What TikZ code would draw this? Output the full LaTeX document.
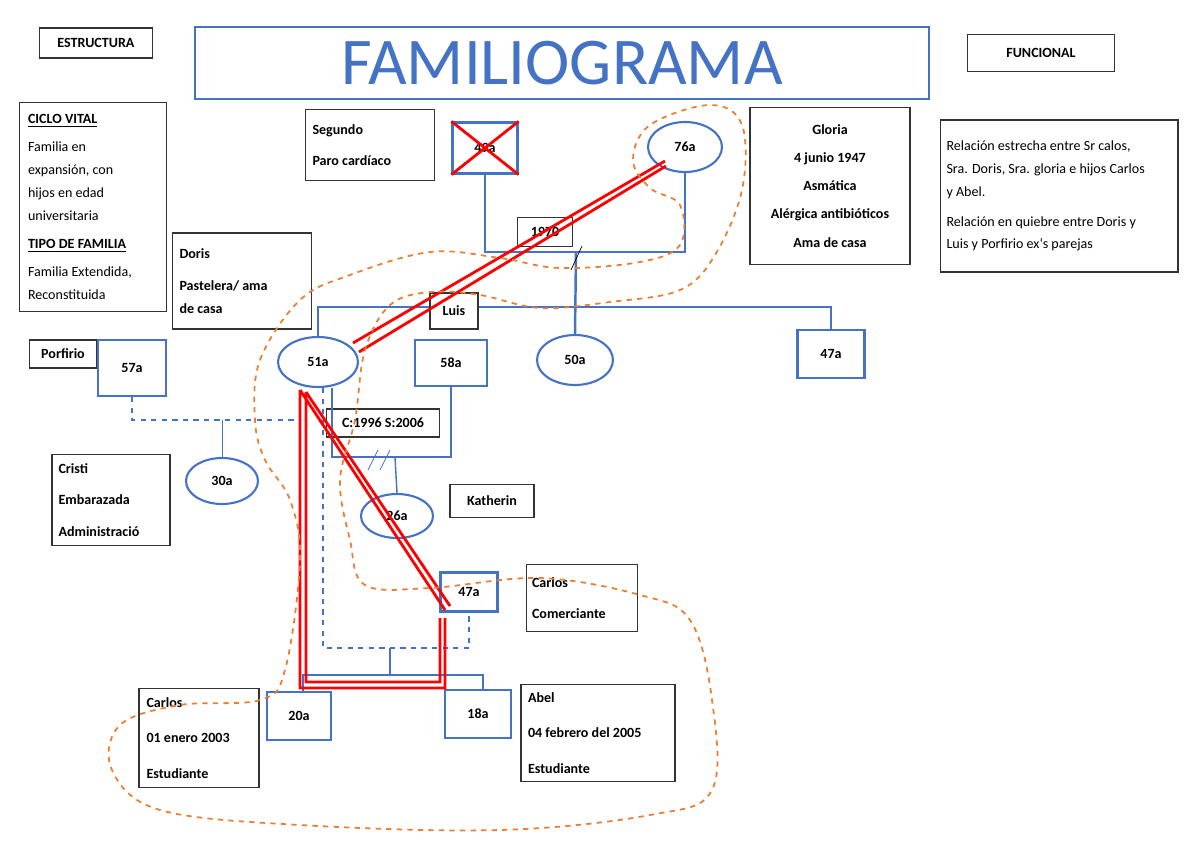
\documentclass[tikz,border=0pt]{standalone}
\usepackage{fontspec}
\setmainfont{Carlito}
\usetikzlibrary{shapes.geometric}
\definecolor{azul}{RGB}{68,114,196}
\definecolor{naranja}{RGB}{237,125,49}
\tikzset{
  box/.style={draw=black!80, line width=0.6pt, inner sep=2pt, font=\fontsize{8}{13}\selectfont\bfseries},
  nota/.style={box, align=flush left, font=\fontsize{8}{13}\selectfont},
  hombre/.style={draw=azul, line width=1.2pt, font=\fontsize{8}{10}\selectfont\bfseries},
  mujer/.style={ellipse, draw=azul, line width=1.2pt, font=\fontsize{8}{10}\selectfont\bfseries},
  lazo/.style={draw=azul, line width=1.4pt},
  lazod/.style={draw=azul, line width=0.9pt, dashed},
  roto/.style={draw=red, line width=1.6pt},
}
\begin{document}
\begin{tikzpicture}[x=0.02cm, y=-0.02cm]
\useasboundingbox (0,0) rectangle (1200,849);

% cuadros de texto
\node[box, minimum width=2.26cm, minimum height=0.6cm] (estr) at (96,43) {ESTRUCTURA};
\node[draw=azul, line width=1.2pt, minimum width=14.7cm, minimum height=1.44cm, text=azul, font=\fontsize{38}{40}\selectfont] (titulo) at (562,63) {FAMILIOGRAMA};
\node[box, minimum width=2.94cm, minimum height=0.74cm] (func) at (1041,53) {FUNCIONAL};
\node[nota, minimum width=2.94cm, minimum height=4.18cm, text width=2.6cm] (ciclo) at (93,207) {\textbf{\underline{CICLO VITAL}}\\[3pt]Familia en\\expansión, con\\hijos en edad\\universitaria\\[3pt]\textbf{\underline{TIPO DE FAMILIA}}\\[3pt]Familia Extendida,\\Reconstituida};
\node[box, align=flush left, minimum width=2.58cm, minimum height=1.42cm, text width=2.3cm] (segundo) at (370,145) {Segundo\\[5pt]Paro cardíaco};
\node[box, align=center, minimum width=3.2cm, minimum height=3.14cm, font=\fontsize{8}{16}\selectfont\bfseries] (gloria) at (830,186) {Gloria\\4 junio 1947\\Asmática\\Alérgica antibióticos\\Ama de casa};
\node[nota, minimum width=4.76cm, minimum height=3.04cm, text width=4.5cm] (funcional) at (1059,196) {Relación estrecha entre Sr calos,\\Sra. Doris, Sra. gloria e hijos Carlos\\y Abel.\\[4pt]Relación en quiebre entre Doris y\\Luis y Porfirio ex{\char"0060}s parejas};
\node[box, align=flush left, minimum width=2.78cm, minimum height=1.92cm, text width=2.5cm] (doris) at (242,281) {Doris\\[5pt]Pastelera/ ama\\de casa};
\node[box, minimum width=1.34cm, minimum height=0.56cm] (porfirio) at (63,354) {Porfirio};
\node[box, align=flush left, minimum width=2.36cm, minimum height=1.82cm, text width=2.1cm, font=\fontsize{8}{18}\selectfont\bfseries] (cristi) at (111,500) {Cristi\\Embarazada\\Administració};
\node[box, minimum width=1.68cm, minimum height=0.66cm] (katherin) at (492,501) {Katherin};
\node[box, align=flush left, minimum width=2.22cm, minimum height=1.34cm, text width=2cm, font=\fontsize{8}{18}\selectfont\bfseries] (carlosc) at (582,598) {Carlos\\Comerciante};
\node[box, align=flush left, minimum width=2.4cm, minimum height=1.98cm, text width=2.1cm, font=\fontsize{8}{20}\selectfont\bfseries] (carlose) at (199,738) {Carlos\\01 enero 2003\\Estudiante};
\node[box, align=flush left, minimum width=3.08cm, minimum height=1.94cm, text width=2.8cm, font=\fontsize{8}{20}\selectfont\bfseries] (abel) at (598,733) {Abel\\04 febrero del 2005\\Estudiante};

% personas
\node[hombre, minimum width=1.3cm, minimum height=1.02cm, anchor=center] (h49) at (485,148) {49a};
\node[mujer, minimum width=1.48cm, minimum height=1.0cm] (m76) at (685,147) {76a};
\node[box, minimum width=1.1cm, minimum height=0.58cm] (anio) at (545,232) {1970};
\node[mujer, minimum width=1.6cm, minimum height=1.0cm] (m51) at (318,362) {51a};
\node[hombre, minimum width=1.44cm, minimum height=0.92cm] (h58) at (451,363) {58a};
\node[mujer, minimum width=1.52cm, minimum height=1.0cm] (m50) at (575,360) {50a};
\node[hombre, minimum width=1.34cm, minimum height=0.96cm] (h47b) at (831,354) {47a};
\node[hombre, minimum width=1.36cm, minimum height=1.12cm] (h57) at (132,368) {57a};
\node[mujer, minimum width=1.44cm, minimum height=0.92cm] (m30) at (222,481) {30a};
\node[box, minimum width=2.26cm, minimum height=0.56cm, fill=white] (union) at (383,423) {C:1996 S:2006};
\node[mujer, minimum width=1.44cm, minimum height=0.88cm] (m26) at (397,516) {26a};
\node[hombre, minimum width=1.14cm, minimum height=0.78cm] (h47) at (469,592) {47a};
\node[hombre, minimum width=1.28cm, minimum height=0.96cm] (h20) at (299,716) {20a};
\node[hombre, minimum width=1.32cm, minimum height=0.96cm] (h18) at (478,714) {18a};

% uniones
\coordinate (p1) at (576,252);
\coordinate (p2) at (576,307);
\coordinate (p3) at (395,457);
\coordinate (p4) at (222,420);
\coordinate (p5) at (390,648);
\coordinate (p6) at (390,675);
\draw[lazo] (h49.south) |- (p1) -| (m76.south);
\draw[lazo] (p1) -- (m50.north);
\draw[lazo] (m51.north) |- (p2) -| (h47b.north);
\node[box, minimum width=0.96cm, minimum height=0.72cm, fill=white] (luis) at (454,311) {Luis};
\draw[thin] (571,270) -- (582,246);
\draw[lazo] ([xshift=8pt]m51.south) |- (p3) -| (h58.south);
\draw[lazo, line width=0.8pt] (p3) -- (m26.north);
\draw[azul, thin] (368,470) -- (378,450) (380,470) -- (390,450);
\draw[lazod] (h57.south) |- ([xshift=-0.4cm]m51.south |- p4);
\draw[azul, thin] (p4) -- (m30.north);
\draw[lazod] ([xshift=0.1cm]m51.south) |- (p5) -| (h47.south);
\draw[lazo] (p5) -- (p6);
\draw[lazo] (h20.north -| 303,0) |- (p6) -| (h18.north -| 483,0);

% relaciones rotas
\draw[roto] (h49.north west) -- (h49.south east) (h49.north east) -- (h49.south west);
\draw[roto] (353,343) -- (665,161) (359,352) -- (666,166);
\draw[roto] (300,390) -- (300,688) -- (445,688) -- (445,618)
            (306,392) -- (306,682) -- (440,682) -- (440,618)
            (300,390) -- (445,610) (306,392) -- (450,606);

% grupo familiar
\draw[naranja, line width=1pt, dashed] plot[smooth cycle, tension=0.6] coordinates {
 (255,420) (260,360) (300,300) (350,275) (430,252) (500,258) (560,268) (640,262) (680,245)
 (680,205) (650,188) (633,160) (650,125) (710,105) (742,125) (742,190) (715,255) (680,290)
 (610,302) (540,308) (480,295) (430,292) (390,305) (365,350) (355,420) (340,480) (350,540)
 (365,585) (430,588) (540,578) (640,595) (690,620) (712,700) (712,790) (650,815) (500,830)
 (300,825) (160,810) (112,770) (120,725) (180,705) (260,700) (285,670) (300,560) (290,500) (265,460)};
\end{tikzpicture}
\end{document}
